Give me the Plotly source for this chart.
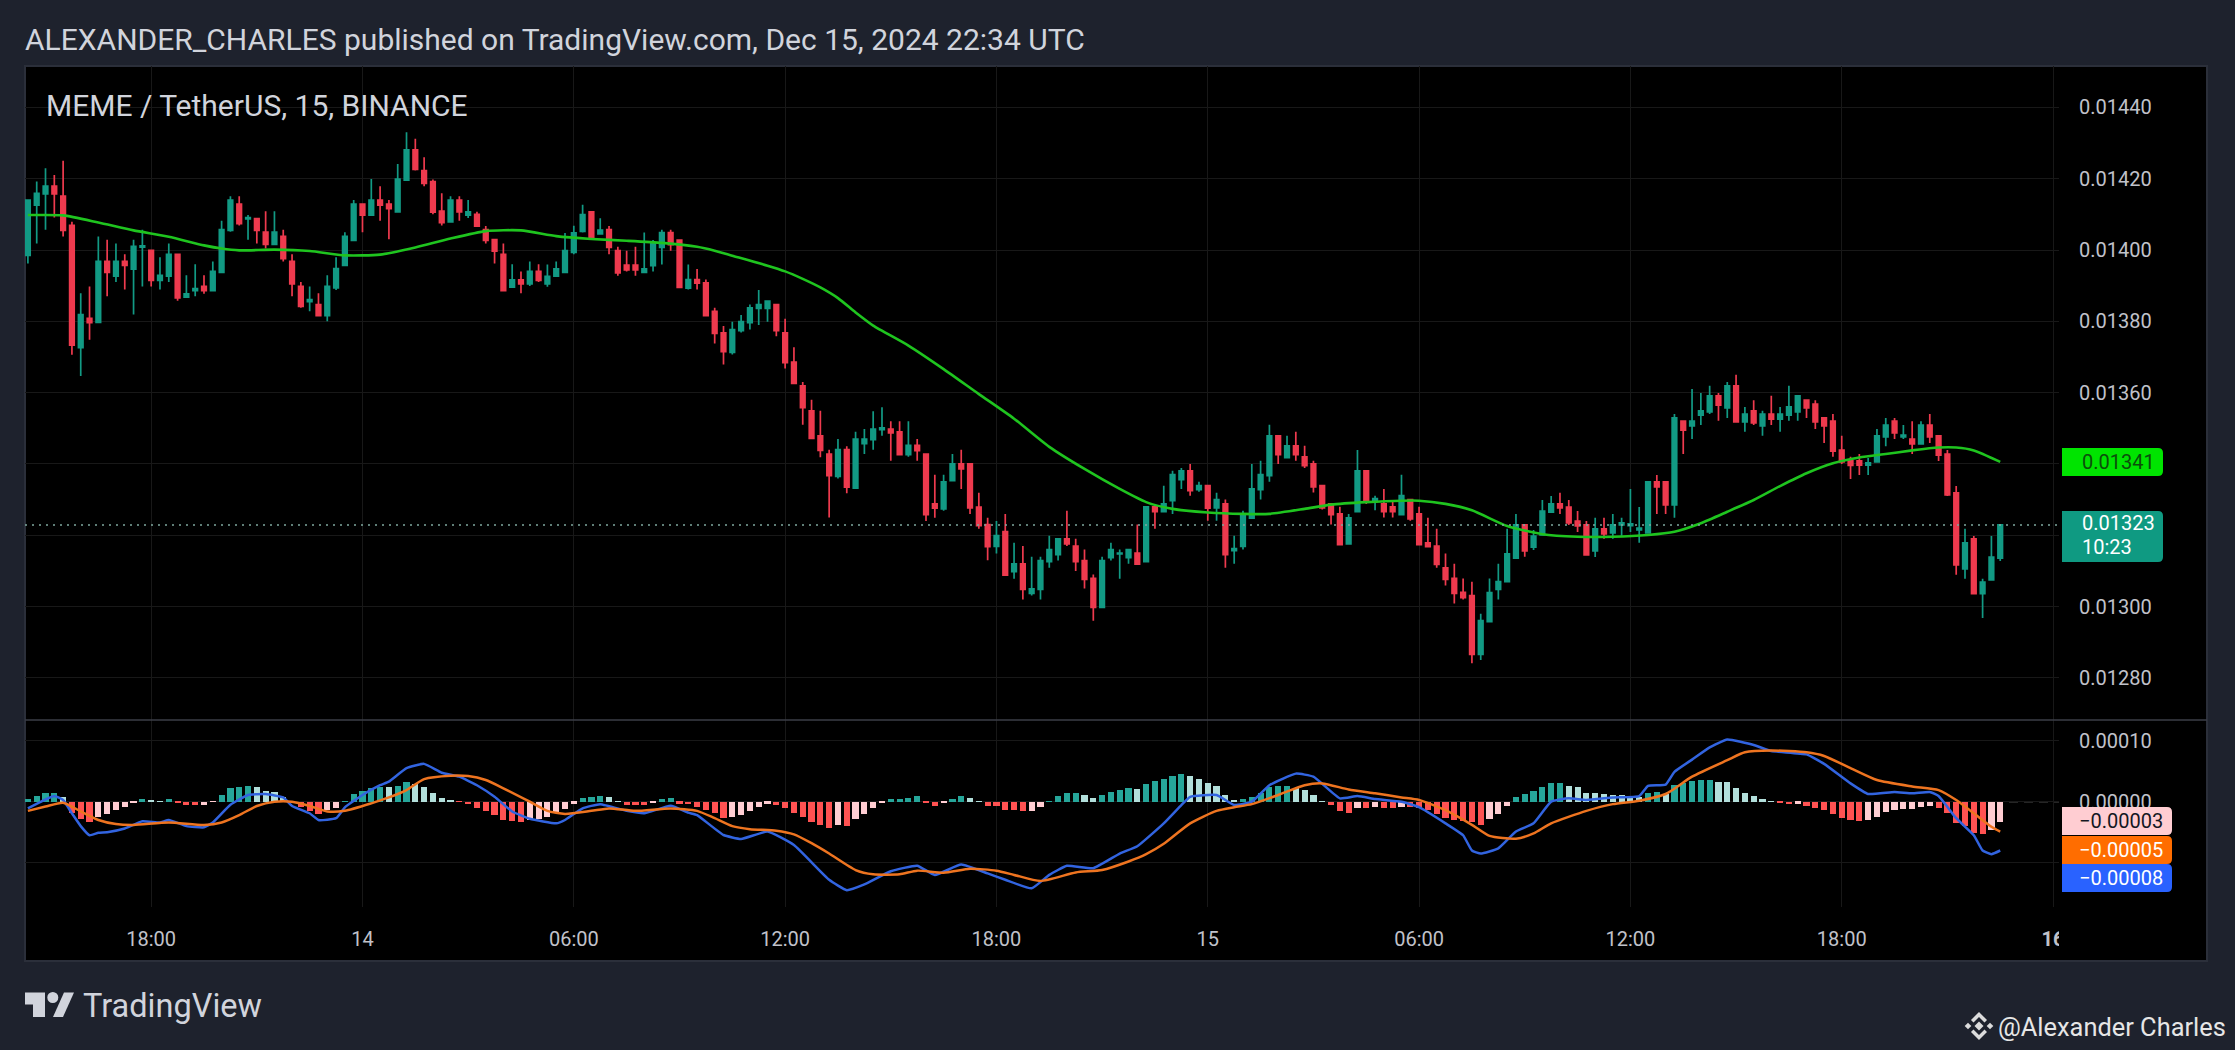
import pandas as pd
import plotly.graph_objects as go

# MEME/USDT 15-minute candles, prices in units of 0.00001
price_open = [
    1398.5,1412.6,1415.7,1417.9,1415.1,1406.9,1372.6,1380.8,1379.7,1396.8,
    1392.7,1396.8,1394.6,1400.8,1399.9,1391.5,1392.7,1398.8,1386.8,1388.6,
    1389.8,1388.6,1393.7,1405.5,1412.9,1408.7,1408.8,1405,1401.6,1403.8,
    1396.8,1389.8,1385.5,1384.7,1381.6,1389.4,1395.7,1402.7,1412.9,1409.8,
    1414,1412.9,1410.7,1419.6,1428.1,1422.3,1419.2,1410.9,1407.9,1414,
    1409.8,1410,1405.7,1402.9,1398.8,1389.6,1391.6,1390.5,1394,1390.5,
    1392.7,1393.7,1399.3,1405.2,1410.7,1404.5,1405.7,1399.8,1395.8,1395.8,
    1393.7,1395.6,1400.7,1404.9,1402.8,1389.3,1391.7,1390.8,1382.8,1376.8,
    1371.3,1377.4,1379.6,1383.6,1383.6,1384.7,1376.8,1368.6,1361.9,1354.9,
    1347.9,1342.8,1336.5,1344,1333.2,1345.7,1346.8,1349.6,1349.8,1349,
    1342.6,1345.2,1342.8,1328.8,1327.4,1335.3,1340,1340,1327.9,1323,
    1316.9,1321,1309.8,1312,1303.7,1304.8,1312.6,1314.6,1319,1317,
    1312.9,1307.9,1299.8,1313.7,1314.8,1313.7,1315,1312.6,1328,1326.6,
    1329.7,1335.6,1338.1,1332.8,1333.9,1327.7,1328.8,1315.7,1316.9,1324.8,
    1332.8,1336.7,1347.9,1341.8,1345.1,1342,1340,1333.9,1328.8,1326,
    1317.6,1326.6,1338.1,1329.4,1328.8,1328,1325.8,1330,1326,1317.9,
    1317,1310.9,1307.9,1304,1303.1,1286.6,1295.8,1304.8,1307,1313.6,
    1322.9,1316.7,1320.1,1326.5,1328.8,1327.9,1324,1322.9,1315.6,1321.8,
    1320.7,1322.9,1322.7,1321.5,1320.7,1335,1335,1328.5,1352,1350.7,
    1353.7,1354.6,1359.1,1355.7,1361.9,1351.8,1354.9,1350.7,1354,1352.6,
    1353.7,1354.6,1357.9,1356.8,1352.9,1352,1343.9,1340.9,1340.9,1339.7,
    1340.6,1347.6,1352,1347.6,1347,1345.6,1350.9,1347.9,1342.8,1331.9,
    1310.6,1319,1303.6,1307.5,1313.6,
]
price_high = [
    1414,1419.2,1422.9,1421,1425,1407.9,1387.9,1389.8,1403.8,1402.9,
    1401.8,1398.8,1402.9,1405.7,1399.9,1398,1401.8,1398.8,1392.9,1396,
    1392.9,1396.8,1408.2,1415.1,1415.1,1409.8,1408.8,1410.9,1410.9,1405.7,
    1398.8,1391,1389.8,1387.9,1392.9,1398,1405,1414,1412.9,1419.9,
    1417.9,1414,1424.1,1433,1431.2,1426,1419.8,1415.9,1415.1,1415.1,
    1414,1410.7,1406.7,1402.9,1401.8,1396,1394,1396.8,1396,1395.9,
    1396.8,1404.8,1406.8,1412.7,1410.7,1408.9,1406.7,1400.9,1399.8,1400.9,
    1404.9,1402.8,1405.7,1405.7,1402.8,1395.9,1394.7,1391.7,1383.8,1378.7,
    1379.9,1381.8,1384.7,1388.8,1385.7,1384.7,1380.7,1372.7,1363,1358,
    1354.9,1344,1347,1345,1349,1349.8,1354.8,1355.9,1352,1352,
    1352,1347,1342.8,1337,1337,1342.8,1344,1340,1331.9,1324.9,
    1324,1326,1317.9,1317,1314,1314,1319.9,1319,1326.9,1319,
    1316,1309,1314,1317.9,1316,1316,1323,1328,1328.8,1333.9,
    1338.1,1338.9,1340,1335,1333.9,1331.9,1330,1319.9,1326.9,1340,
    1340.9,1351,1347.9,1347.9,1349,1345.1,1340.9,1333.9,1328.8,1328,
    1326,1343.9,1338.1,1331.1,1333,1329.7,1337,1330,1328,1324.9,
    1321.8,1314.9,1312,1307.9,1307,1298,1307.9,1312,1321.8,1326,
    1322.9,1321.5,1329.9,1331,1331.9,1329.9,1326.8,1324,1324.9,1324.9,
    1326,1324.9,1333,1327.9,1335,1336.9,1335,1354,1352,1361,
    1359.9,1361.9,1359.9,1363,1365,1356,1357.9,1354.9,1359.1,1356,
    1361.9,1359.1,1357.9,1357.9,1352.9,1354,1347.9,1342,1342.8,1341.7,
    1349.8,1352.9,1352.9,1350.9,1352,1352,1354,1347.9,1343.9,1333.8,
    1321.8,1319.8,1307.8,1319.8,1322.9,
]
price_low = [
    1396.2,1401.8,1405.7,1409.1,1403.8,1370.6,1364.7,1374.8,1379.7,1387,
    1391,1388.9,1381.9,1389.8,1389.8,1388.9,1391,1385.8,1386.8,1387,
    1387.7,1388.6,1393.7,1405.1,1406.9,1402.9,1401.8,1400.4,1401.6,1396.8,
    1387,1383.8,1382.8,1381.6,1380,1388.8,1395.7,1402.7,1405,1409.8,
    1408.2,1403,1410.7,1419.6,1422.3,1417.9,1410,1406.9,1407.9,1408.2,
    1409,1406.7,1401.8,1396.2,1388.6,1389.6,1387.9,1389.9,1391,1389.7,
    1392.5,1393.7,1398.8,1404.9,1403,1404.5,1398.8,1392.8,1394,1392.8,
    1393.7,1394,1395.9,1399.8,1389.5,1388.9,1388.9,1381.6,1373.8,1367.9,
    1370.7,1376.9,1377.7,1379,1379.9,1375.8,1366.8,1362.6,1351,1347.2,
    1341.9,1325,1335.9,1331.8,1333.2,1342.8,1344,1347.9,1340.9,1342.6,
    1342,1340.9,1324,1324.9,1326.9,1335.3,1333,1326,1321.8,1313,
    1314.9,1308.8,1307.8,1302,1303.1,1302,1310.9,1312.9,1317,1310,
    1305.1,1296,1299.8,1312.9,1307.8,1312,1311.9,1312.6,1321.8,1326.6,
    1326,1333,1331.1,1332.2,1324.1,1324.1,1310.9,1312,1316,1324.8,
    1330,1335,1340,1341.8,1340.9,1338.9,1332,1327.2,1323,1317.1,
    1317.6,1326.6,1328.8,1327,1325,1325,1325.8,1324.1,1317.1,1316.8,
    1310.9,1305.9,1300.9,1302,1284.1,1285,1295.8,1302,1307,1313.6,
    1314,1315.9,1320.1,1326.5,1326,1322.9,1320.9,1314.5,1313.9,1319,
    1319,1319.8,1320.9,1317.9,1320.7,1326,1326,1324.9,1342.8,1347,
    1350.9,1354,1352.1,1352.9,1351.8,1349,1350.9,1347.9,1350.9,1349,
    1352.1,1352.1,1352.9,1349.8,1345.9,1342,1340,1335.8,1336.9,1336.9,
    1340.6,1345,1347,1347,1342.8,1345.6,1345.9,1340.8,1331,1308.9,
    1307.8,1303.6,1296.8,1307.5,1312.8,
]
price_close = [
    1414,1415.9,1417.9,1415.7,1405.5,1373.3,1381.9,1379.6,1396.8,1393.7,
    1396.8,1395.7,1401,1401.2,1391.5,1392.9,1398.8,1386.6,1387.7,1389.2,
    1388.6,1394,1405.7,1414,1407.4,1409.1,1405.5,1401.6,1405,1397.6,
    1390.5,1384.2,1386.1,1381.6,1389.8,1394.8,1403.8,1412.9,1409.8,1414,
    1412.6,1411.6,1419.9,1428.1,1422.6,1418.7,1410.6,1407.7,1414,1410.7,
    1410.7,1406.7,1402.7,1399.7,1388.6,1391.6,1390.5,1394,1391.5,1392.6,
    1394.7,1399.8,1404.8,1409.9,1403.4,1405.6,1400.7,1393.6,1394.4,1394.4,
    1394.7,1401.9,1404.9,1401.5,1389.5,1391.7,1390.7,1381.6,1376.6,1371.5,
    1377.7,1379.9,1383.8,1384.7,1385.7,1377.4,1368.4,1362.6,1355.8,1347.2,
    1343.8,1336.7,1344,1333.5,1347,1347,1349.8,1350.1,1348.7,1342.6,
    1345.2,1343.7,1325.8,1327.6,1335,1340,1338.6,1327.7,1322.7,1316.8,
    1319.9,1308.8,1312,1304.8,1305,1312.9,1316,1319,1317.6,1312.6,
    1307.6,1299.8,1312.9,1316,1315,1316,1311.9,1328,1326.6,1328.8,
    1337,1338.1,1332.5,1333.9,1327.6,1330,1314.6,1316.3,1325.8,1333,
    1337,1347.9,1342.6,1345.1,1342.6,1339.5,1333.6,1327.7,1325.8,1317.4,
    1324.9,1338.1,1329.4,1330.3,1326.6,1326.6,1331.1,1324.6,1317.4,1316.8,
    1311.8,1307.6,1303.7,1302.5,1286.6,1296.1,1303.9,1307,1314.8,1322.9,
    1315.6,1319.8,1326.8,1328.8,1327.7,1323.5,1322.6,1314.5,1321.8,1320.4,
    1322.9,1323.5,1323.2,1322,1335,1333.6,1328.5,1352.9,1349.5,1352,
    1354.9,1359.1,1356.5,1361.9,1351.8,1354,1351.5,1354,1352.6,1354,
    1356,1359.1,1355.7,1351.8,1350.7,1343.6,1340.6,1339.6,1339.7,1340.3,
    1347.9,1350.9,1348.7,1348.1,1345.6,1350.9,1347.6,1342.5,1331.3,1311.7,
    1317.9,1303.6,1306.9,1313.9,1322.9,
]

# Moving average, sampled at the listed candle numbers
ema_index = [0,4,8,12,16,20,22,24,28,32,36,40,44,48,52,56,60,64,68,72,76,78,80,84,86,88,90,92,94,96,
             100,104,108,112,116,120,124,127,130,134,138,141,145,148,152,156,158,161,164,168,
             172,176,180,184,187,190,193,196,199,202,205,208,211,214,217,219,221,224]
ema_value = [1409.8,1409.7,1407.7,1405.5,1403.7,1401.3,1400.4,1399.9,1400.1,1399.7,1398.5,1398.7,1400.7,1403.2,1405.3,1405.5,1403.9,1403.1,1402.6,1402,1400.9,1399.8,1398.4,1395.6,1394,1391.9,1389.5,1386.5,1382.5,1378.8,
             1373.2,1366.6,1359.6,1352.7,1344.8,1338.6,1333,1329.3,1327.4,1326.4,1326,1326,1327.4,1328.6,1329.3,1329.7,1329.7,1328.8,1327,1322.6,
             1320.3,1319.6,1319.6,1320.1,1321,1323.4,1326.6,1329.9,1333.8,1337.4,1340.2,1341.8,1342.8,1343.8,1344.6,1344.6,1343.8,1340.6]

# MACD lines, in units of 0.00001
macd_index = [0,3,4,5,6,7,8,9,11,13,15,16,18,20,21,23,25,27,29,30,32,33,35,36,38,40,41,43,45,47,49,51,53,55,57,60,61,63,65,68,70,73,75,
              76,79,81,84,87,91,93,95,98,101,103,106,109,111,114,116,118,121,124,126,129,131,132,135,137,139,141,144,146,149,151,153,156,
              158,161,163,164,165,167,169,171,173,175,177,180,183,184,186,187,189,191,193,196,198,202,204,207,209,212,214,216,217,219,221,222,223,224]
macd_value = [-1.09,.93,.27,-1.9,-4,-5.5,-5.1,-5,-4.4,-3.2,-3.4,-3,-4,-4.2,-3.4,-.5,1.1,1.26,.7,-.7,-1.9,-3,-2.7,-.93,1.1,2.7,3.3,5.5,6.2,4.75,4.1,2.7,.8,-1.6,-2.8,-3.55,-3,-1.1,-.4,-1.5,-1.9,-.66,-1.8,
              -2.2,-5.46,-6.1,-4.9,-7.1,-12.8,-14.5,-13.55,-11.4,-10.5,-12,-10.3,-11.75,-12.8,-14.2,-12,-10.5,-10.9,-8.5,-7.3,-3.55,-.55,.8,1.1,-.55,0,2.7,4.6,4.1,.55,.93,.44,0,
              -.9,-3.55,-5.5,-8,-8.5,-7.65,-4.9,-3.55,0,.55,.27,.7,.93,2.6,2.8,4.9,6.9,8.9,10.2,9.3,8.3,7.75,6.2,3,1.26,1.6,1.37,1.6,.93,-2.7,-5.5,-8,-8.6,-8]
signal_index = [0,2,4,6,8,10,12,16,20,22,24,26,28,30,32,34,36,39,41,43,45,48,50,52,54,57,59,61,64,66,69,73,
                76,78,80,82,85,87,89,91,94,96,99,101,104,107,110,112,115,119,122,125,127,129,132,135,137,139,142,145,147,150,153,156,
                158,161,164,166,169,171,173,177,180,183,186,189,193,195,198,202,204,207,210,214,217,219,221,223,224]
signal_value = [-1.5,-.8,-.16,-1.6,-3,-3.66,-3.8,-3.4,-3.8,-3.4,-2.2,-.7,0,0,-.7,-1.6,-1.5,-.27,.7,1.9,3.7,4.26,4.2,3.55,2.2,0,-1.5,-2,-1.5,-1.1,-1.5,-1.1,
                -1.5,-2.7,-4,-4.5,-4.75,-5.35,-6.8,-8.5,-11.2,-11.9,-11.9,-11.3,-11.65,-11,-11.3,-12,-13,-11.6,-11.2,-9.8,-8.6,-6.9,-3.55,-1.5,-.9,-.4,1.1,2.7,3,2,1.37,.7,
                .27,-1.4,-3.8,-5.6,-6.07,-5.2,-3.55,-1.5,-.4,.16,1.26,4.1,6.8,8.1,8.4,8.1,7.5,5.5,3.55,2.5,1.9,.27,-1.9,-4.1,-4.9]

# MACD histogram, one bar per candle, in units of 0.00001
hist_value = [
    .44,.93,1.4,1.42,.8,-1.8,-2.85,-3.3,-2.55,-2,
    -1.4,-.9,-.15,.44,.12,.1,.44,-.2,-.55,-.6,
    -.5,-.05,1.1,2.2,2.35,2.6,2.35,1.75,1.6,.7,
    .1,-.9,-1.5,-2,-1.4,-1.1,.1,1.26,1.75,2.2,
    2.45,2.4,2.6,3.2,2.9,2.45,1.4,.66,.27,-.05,
    -.4,-1.1,-1.6,-2.1,-3,-3.2,-3.3,-3,-2.9,-2.45,
    -1.9,-1.2,-.3,.55,.7,.93,.7,.1,-.5,-.6,
    -.62,-.15,.44,.55,-.3,-.45,-.8,-1.4,-1.9,-2.6,
    -2.45,-2.1,-1.5,-.8,-.3,-.5,-1.1,-1.8,-2.45,-3.3,
    -3.8,-4.3,-3.8,-4,-2.85,-2,-1,-.15,.38,.4,
    .66,.87,-.1,-.7,-.27,.38,.93,.6,.05,-.7,
    -.75,-1.4,-1.42,-1.5,-1.45,-.8,.05,.93,1.4,1.42,
    1.1,.55,1.1,1.64,1.9,2.2,2,2.85,3.4,3.66,
    4.26,4.5,4.2,3.7,3.1,2.6,1.1,.27,.38,.8,
    1.5,2.35,2.58,2.6,2.2,1.9,1.1,.1,-.55,-1.6,
    -1.8,-1,-1,-.8,-1,-1.02,-.8,-.85,-1.1,-1.4,
    -2,-2.7,-3,-3.1,-3.3,-3.8,-2.85,-2,-.7,.7,
    1.26,1.75,2.35,3,3.1,2.6,2.35,1.5,1.37,1.2,
    1.1,1.05,1,.7,1.5,1.64,1.26,2.7,3.1,3.4,
    3.55,3.6,3.3,3.2,2.25,1.5,1,.5,.05,-.27,
    -.45,-.3,-.65,-1,-1.4,-2,-2.7,-3,-3.1,-3,
    -2.55,-1.75,-1.4,-1.2,-1.15,-.9,-.7,-1,-1.9,-3.55,
    -4,-5.2,-5.3,-4.6,-3.3,
]

assert len(price_open) == len(price_high) == len(price_low) == len(price_close) == len(hist_value) == 225
assert len(ema_index) == len(ema_value)
assert len(macd_index) == len(macd_value)
assert len(signal_index) == len(signal_value)

UNIT = 1e-5
CANDLE = pd.Timedelta(minutes=15)
times = pd.date_range("2024-12-13 14:30", periods=len(price_close), freq="15min")


def scaled(values):
    return [v * UNIT for v in values]


# Palette
PAGE = "#1e222d"
TEXT = "#d1d4dc"
AXIS_TEXT = "#c0c2ca"
GRID = "#181818"
UP = "#129a84"
DOWN = "#ee3a4e"
EMA = "#1fc41f"
MACD = "#3264e0"
SIGNAL = "#ee7420"

# Page geometry in pixels
W, H = 2235, 1050
PLOT_L, PLOT_R = 25, 2059
PLOT_T, PLOT_B = 66, 907
SPLIT_Y = 720
PANE_R, PANE_B = 2207, 961


def px(x):
    return (x - PLOT_L) / (PLOT_R - PLOT_L)


def py(y):
    return (PLOT_B - y) / (PLOT_B - PLOT_T)


def hist_color(i):
    v = hist_value[i]
    prev = hist_value[i - 1] if i else 0
    if v >= 0:
        return "#26a69a" if v > prev else "#b2dfdb"
    return "#ffcdd2" if v > prev else "#ff5252"


fig = go.Figure()
fig.add_trace(go.Candlestick(
    x=times, open=scaled(price_open), high=scaled(price_high),
    low=scaled(price_low), close=scaled(price_close),
    increasing=dict(line=dict(color=UP, width=1.7), fillcolor=UP),
    decreasing=dict(line=dict(color=DOWN, width=1.7), fillcolor=DOWN),
    whiskerwidth=0, yaxis="y", showlegend=False,
))
fig.add_trace(go.Scatter(
    x=times[ema_index], y=scaled(ema_value), mode="lines", yaxis="y",
    line=dict(color=EMA, width=2.6, shape="spline", smoothing=0.6), showlegend=False,
))
fig.add_trace(go.Bar(
    x=times, y=scaled(hist_value), yaxis="y2",
    width=CANDLE.total_seconds() * 1000 * 0.7,
    marker=dict(color=[hist_color(i) for i in range(len(hist_value))], line=dict(width=0)),
    showlegend=False,
))
fig.add_trace(go.Scatter(
    x=times[macd_index], y=scaled(macd_value), mode="lines", yaxis="y2",
    line=dict(color=MACD, width=2.5, shape="spline", smoothing=0.4), showlegend=False,
))
fig.add_trace(go.Scatter(
    x=times[signal_index], y=scaled(signal_value), mode="lines", yaxis="y2",
    line=dict(color=SIGNAL, width=2.5, shape="spline", smoothing=0.6), showlegend=False,
))


def poly(points, color):
    d = "M " + " L ".join(f"{px(x):.6f} {py(y):.6f}" for x, y in points) + " Z"
    return dict(type="path", xref="paper", yref="paper", path=d, fillcolor=color,
                line=dict(width=0), layer="above")


def tag(x0, x1, y0, y1, color, r=5):
    """Value tag with rounded corners on its right side."""
    d = (f"M {px(x0):.6f} {py(y0):.6f} L {px(x1 - r):.6f} {py(y0):.6f} "
         f"Q {px(x1):.6f} {py(y0):.6f} {px(x1):.6f} {py(y0 + r):.6f} "
         f"L {px(x1):.6f} {py(y1 - r):.6f} "
         f"Q {px(x1):.6f} {py(y1):.6f} {px(x1 - r):.6f} {py(y1):.6f} "
         f"L {px(x0):.6f} {py(y1):.6f} Z")
    return dict(type="path", xref="paper", yref="paper", path=d, fillcolor=color,
                line=dict(width=0), layer="above")


def rect(x0, y0, x1, y1, fill=None, line=None, layer="below", width=1):
    return dict(type="rect", xref="paper", yref="paper",
                x0=px(x0), x1=px(x1), y0=py(y1), y1=py(y0),
                fillcolor=fill or "rgba(0,0,0,0)",
                line=dict(color=line or "rgba(0,0,0,0)", width=width if line else 0),
                layer=layer)


shapes = [
    rect(PLOT_L, PLOT_T, PANE_R, PANE_B, fill="#000000", line="#2b2f3a", width=2),
    rect(PLOT_R, PLOT_B, PANE_R - 1, PANE_B - 1, fill="#000000", layer="above"),
    dict(type="line", xref="paper", yref="paper", x0=0, x1=px(PANE_R),
         y0=py(SPLIT_Y), y1=py(SPLIT_Y), line=dict(color="#3b3e47", width=1.5), layer="above"),
    # Last-price dotted level
    dict(type="line", xref="paper", yref="y", x0=0, x1=1,
         y0=price_close[-1] * UNIT, y1=price_close[-1] * UNIT,
         line=dict(color="#7fa89f", width=1.5, dash="2px,5px"), layer="above"),
    # Histogram zero level past the last bar
    dict(type="line", xref="x", yref="y2", x0=times[-1] + CANDLE, x1=times[-1] + 30 * CANDLE / 4,
         y0=0, y1=0, line=dict(color="#4a4a4a", width=1.5, dash="9px,6px"), layer="below"),
    tag(2062, 2163, 448, 476, "#00e400"),
    tag(2062, 2163, 511, 562, "#0f9a82"),
    tag(2062, 2172, 807, 835, "#ffcdd2"),
    tag(2062, 2172, 836, 864, "#ff6d00"),
    tag(2062, 2172, 864, 892, "#2962ff"),
    # TradingView logo
    poly([(25, 992.5), (45, 992.5), (45, 1017), (33, 1017), (33, 1004.5), (25, 1004.5)], TEXT),
    poly([(64, 992.5), (74, 992.5), (63, 1017), (53, 1017)], TEXT),
    dict(type="circle", xref="paper", yref="paper", x0=px(47.3), x1=px(58.3),
         y0=py(1003), y1=py(992), fillcolor=TEXT, line=dict(width=0), layer="above"),
]

# Exchange emblem beside the author's handle
LOGO_X, LOGO_Y, LOGO_C = 1979, 1026, "#dcdcdc"
for dx, dy, s in [(0, 0, 4.5), (-11, 0, 3.3), (11, 0, 3.3)]:
    shapes.append(poly([(LOGO_X + dx, LOGO_Y + dy - s), (LOGO_X + dx + s, LOGO_Y + dy),
                        (LOGO_X + dx, LOGO_Y + dy + s), (LOGO_X + dx - s, LOGO_Y + dy)], LOGO_C))
for sign in (-1, 1):
    shapes.append(poly([(LOGO_X, LOGO_Y + sign * 14), (LOGO_X + 8, LOGO_Y + sign * 6),
                        (LOGO_X + 5.5, LOGO_Y + sign * 3.5), (LOGO_X, LOGO_Y + sign * 9),
                        (LOGO_X - 5.5, LOGO_Y + sign * 3.5), (LOGO_X - 8, LOGO_Y + sign * 6)], LOGO_C))


def label(text, x, y, size, color=TEXT, anchor="left"):
    return dict(text=text, xref="paper", yref="paper", x=px(x), y=py(y),
                xanchor=anchor, yanchor="middle", showarrow=False,
                font=dict(family="Roboto", size=size, color=color))


annotations = [
    label("ALEXANDER_CHARLES published on TradingView.com, Dec 15, 2024 22:34 UTC", 23, 39, 30),
    label("MEME / TetherUS, 15, BINANCE", 44, 105, 30),
    label("TradingView", 81, 1006, 32.5),
    label("@Alexander Charles", 1996, 1027, 25.4, color="#e6e6e6"),
    label(f"{ema_value[-1] * UNIT:.5f}", 2080, 462, 20, color="#0b4f0b"),
    label(f"{price_close[-1] * UNIT:.5f}", 2080, 523, 20, color="#ffffff"),
    label("10:23", 2080, 547, 20, color="#ffffff"),
    label(f"\u2212{abs(hist_value[-1]) * UNIT:.5f}", 2165, 821, 20, color="#131722", anchor="right"),
    label(f"\u2212{abs(signal_value[-1]) * UNIT:.5f}", 2165, 850, 20, color="#ffffff", anchor="right"),
    label(f"\u2212{abs(macd_value[-1]) * UNIT:.5f}", 2165, 878, 20, color="#ffffff", anchor="right"),
]

tick_times = pd.to_datetime([
    "2024-12-13 18:00", "2024-12-14 00:00", "2024-12-14 06:00", "2024-12-14 12:00", "2024-12-14 18:00",
    "2024-12-15 00:00", "2024-12-15 06:00", "2024-12-15 12:00", "2024-12-15 18:00", "2024-12-16 00:00",
])
tick_text = ["18:00", "14", "06:00", "12:00", "18:00", "15", "06:00", "12:00", "18:00", "<b>16</b>"]

# The 0.01320 and 0.01340 levels keep their grid lines; the value tags sit on their labels
price_ticks = [0.0128, 0.0130, 0.0132, 0.0134, 0.0136, 0.0138, 0.0140, 0.0142, 0.0144]
price_tick_text = ["0.01280", "0.01300", "", "", "0.01360", "0.01380", "0.01400", "0.01420", "0.01440"]

split = py(SPLIT_Y)
candle_px = 8.805
fig.update_layout(
    width=W, height=H, autosize=False,
    margin=dict(l=PLOT_L, r=W - PLOT_R, t=PLOT_T, b=H - PLOT_B, pad=0),
    paper_bgcolor=PAGE, plot_bgcolor="#000000",
    font=dict(family="Roboto", color=AXIS_TEXT, size=20),
    hovermode=False, showlegend=False, bargap=0, boxgap=0.26,
    shapes=shapes, annotations=annotations,
    xaxis=dict(
        anchor="y2", domain=[0, 1], rangeslider=dict(visible=False),
        range=[times[0] + CANDLE * ((PLOT_L - 27.9) / candle_px),
               times[0] + CANDLE * ((PLOT_R - 27.9) / candle_px)],
        tickmode="array", tickvals=tick_times, ticktext=tick_text, tickangle=0,
        showgrid=True, gridcolor=GRID, gridwidth=1, zeroline=False, showline=False,
        ticks="", ticklabelstandoff=18, tickfont=dict(family="Roboto", size=20, color=AXIS_TEXT),
    ),
    yaxis=dict(
        domain=[split, 1], anchor="x", side="right",
        range=[1268.2 * UNIT, 1451.6 * UNIT],
        tickmode="array", tickvals=price_ticks, ticktext=price_tick_text,
        showgrid=True, gridcolor=GRID, gridwidth=1, zeroline=False, showline=False,
        ticks="", ticklabelstandoff=19, tickfont=dict(family="Roboto", size=20, color=AXIS_TEXT),
    ),
    yaxis2=dict(
        domain=[0, split], anchor="x", side="right",
        range=[-17.26 * UNIT, 13.39 * UNIT],
        tickmode="array", tickvals=[-1e-4, 0, 1e-4], ticktext=["", "0.00000", "0.00010"],
        showgrid=True, gridcolor=GRID, gridwidth=1, zeroline=False, showline=False,
        ticks="", ticklabelstandoff=19, tickfont=dict(family="Roboto", size=20, color=AXIS_TEXT),
    ),
)

fig.write_html("out.html")
